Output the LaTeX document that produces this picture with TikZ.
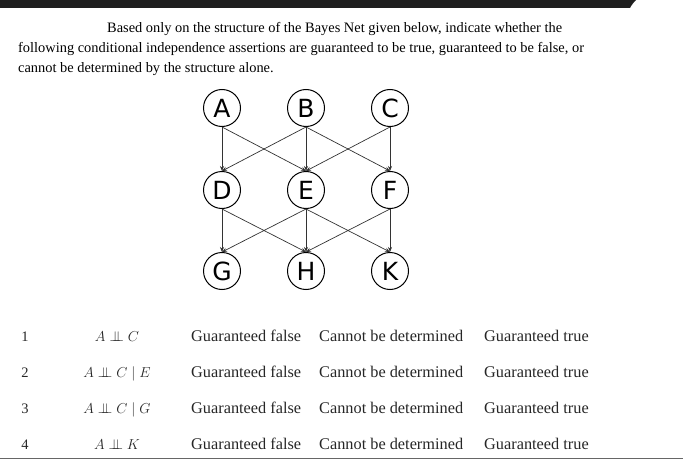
\documentclass[tikz,border=0pt]{standalone}
\usepackage{fontspec}
\setmainfont{Liberation Serif}
\newfontfamily\nodefont{DejaVu Sans}
\usetikzlibrary{arrows.meta}
\newcommand{\indep}{\mathrel{\perp\mkern-10mu\perp}}
\begin{document}
\begin{tikzpicture}[x=1pt,y=-1pt,
  bn/.style={circle,draw,line width=1pt,minimum size=37pt,inner sep=0pt,font=\nodefont\fontsize{25}{25}\selectfont},
  edge/.style={draw=black!80,line width=0.7pt,-{Stealth[length=5pt,width=4pt]}},
  txt/.style={anchor=base west,inner sep=0pt,font=\fontsize{14.4}{14}\selectfont},
  opt/.style={anchor=base west,inner sep=0pt,font=\fontsize{16.3}{16}\selectfont,text=black!85},
  mth/.style={anchor=base,inner sep=0pt,font=\fontsize{14.5}{14}\selectfont,text=black!85}]
\useasboundingbox (0,0) rectangle (683,460);
\fill[black!88] (0,0) -- (636,0) .. controls (633,3) and (631,6) .. (630,8) -- (0,8) -- cycle;
\draw[black!60,line width=1pt] (0,458.5) -- (683,458.5);
\node[txt] (l1) at (107,33) {Based only on the structure of the Bayes Net given below, indicate whether the};
\node[txt] (l2) at (18,53) {following conditional independence assertions are guaranteed to be true, guaranteed to be false, or};
\node[txt] (l3) at (18,73) {cannot be determined by the structure alone.};
\node[bn] (A) at (222,108) {A};
\node[bn] (B) at (306,108) {B};
\node[bn] (C) at (390,108) {C};
\node[bn] (D) at (222,190) {D};
\node[bn] (E) at (306,190) {E};
\node[bn] (F) at (390,190) {F};
\node[bn] (G) at (222,271) {G};
\node[bn] (H) at (306,271) {H};
\node[bn] (K) at (390,271) {K};
\foreach \p/\c in {A/D,A/E,B/D,B/E,B/F,C/E,C/F,D/G,D/H,E/G,E/H,E/K,F/H,F/K}
  \draw[edge] (\p.south) -- (\c.north);
\foreach \y/\n/\m in {336/1/{A \indep C},372/2/{A \indep C \mid E},408/3/{A \indep C \mid G},444/4/{A \indep K}}{
  \node[mth] (n\n) at (25,\y+5) {\n};
  \node[mth] (m\n) at (117,\y+5) {$\m$};
  \node[opt] (f\n) at (191,\y+5) {Guaranteed false};
  \node[opt] (c\n) at (319,\y+5) {Cannot be determined};
  \node[opt] (t\n) at (484,\y+5) {Guaranteed true};
}
\end{tikzpicture}
\end{document}
